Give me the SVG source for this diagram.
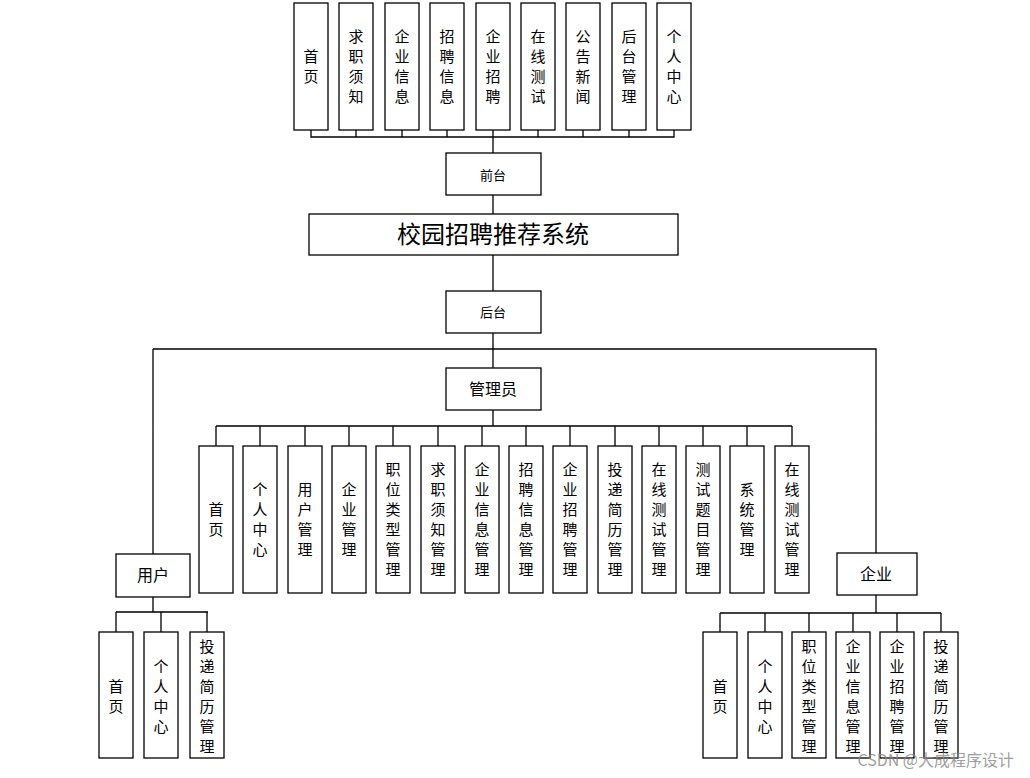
<svg xmlns="http://www.w3.org/2000/svg" width="1030" height="778" viewBox="0 0 1030 778">
<style>
rect{fill:#fff;stroke:#000;stroke-width:1.3}
text{font-family:"Noto Sans CJK SC","Liberation Sans",sans-serif;font-size:15px;text-anchor:middle;fill:#000}
.c{stroke:#000;stroke-width:1.3;fill:none}
</style>
<rect x="0" y="0" width="1030" height="778" style="stroke:none"/>
<g id="connectors">
<path class="c" d="M311 130V137H674V130M356 130V137M402 130V137M447 130V137M493 130V153M538 130V137M583 130V137M629 130V137M493 195V214M493 255V291M493 333V368M153 349H876V553M153 349V554M493 410V426M216 426H792M216 426V446M260 426V446M305 426V446M349 426V446M393 426V446M438 426V446M482 426V446M526 426V446M570 426V446M615 426V446M659 426V446M703 426V446M747 426V446M792 426V446M153 597V612M116 612H208M116 612V632M161 612V632M207 612V632M876 595V613M720 613H941M720 613V632M765 613V632M809 613V632M853 613V632M897 613V632M941 613V632"/>
</g>
<g id="title"><rect x="309" y="214" width="369" height="41"/><text x="493" y="243" style="font-size:24px">校园招聘推荐系统</text></g>
<g id="qiantai"><rect x="446" y="153" width="95" height="42"/><text x="493" y="180" style="font-size:13px">前台</text></g>
<g id="houtai"><rect x="446" y="291" width="95" height="42"/><text x="493" y="317" style="font-size:13px">后台</text></g>
<g id="admin"><rect x="446" y="368" width="95" height="42"/><text x="493" y="395" style="font-size:16px">管理员</text></g>
<g id="user"><rect x="116" y="554" width="74" height="43"/><text x="153" y="581" style="font-size:16px">用户</text></g>
<g id="company"><rect x="837" y="553" width="80" height="42"/><text x="876" y="580" style="font-size:16px">企业</text></g>
<g id="top-nodes">
<g id="t1"><rect x="294" y="3" width="34" height="127"/><text x="311" y="62">首</text><text x="311" y="82">页</text></g>
<g id="t2"><rect x="339" y="3" width="34" height="127"/><text x="356" y="42">求</text><text x="356" y="62">职</text><text x="356" y="82">须</text><text x="356" y="102">知</text></g>
<g id="t3"><rect x="385" y="3" width="34" height="127"/><text x="402" y="42">企</text><text x="402" y="62">业</text><text x="402" y="82">信</text><text x="402" y="102">息</text></g>
<g id="t4"><rect x="430" y="3" width="34" height="127"/><text x="447" y="42">招</text><text x="447" y="62">聘</text><text x="447" y="82">信</text><text x="447" y="102">息</text></g>
<g id="t5"><rect x="476" y="3" width="34" height="127"/><text x="493" y="42">企</text><text x="493" y="62">业</text><text x="493" y="82">招</text><text x="493" y="102">聘</text></g>
<g id="t6"><rect x="521" y="3" width="34" height="127"/><text x="538" y="42">在</text><text x="538" y="62">线</text><text x="538" y="82">测</text><text x="538" y="102">试</text></g>
<g id="t7"><rect x="566" y="3" width="34" height="127"/><text x="583" y="42">公</text><text x="583" y="62">告</text><text x="583" y="82">新</text><text x="583" y="102">闻</text></g>
<g id="t8"><rect x="612" y="3" width="34" height="127"/><text x="629" y="42">后</text><text x="629" y="62">台</text><text x="629" y="82">管</text><text x="629" y="102">理</text></g>
<g id="t9"><rect x="657" y="3" width="34" height="127"/><text x="674" y="42">个</text><text x="674" y="62">人</text><text x="674" y="82">中</text><text x="674" y="102">心</text></g>
</g>
<g id="admin-nodes">
<g id="a1"><rect x="199" y="446" width="34" height="147"/><text x="216" y="515">首</text><text x="216" y="535">页</text></g>
<g id="a2"><rect x="243" y="446" width="34" height="147"/><text x="260" y="495">个</text><text x="260" y="515">人</text><text x="260" y="535">中</text><text x="260" y="555">心</text></g>
<g id="a3"><rect x="288" y="446" width="34" height="147"/><text x="305" y="495">用</text><text x="305" y="515">户</text><text x="305" y="535">管</text><text x="305" y="555">理</text></g>
<g id="a4"><rect x="332" y="446" width="34" height="147"/><text x="349" y="495">企</text><text x="349" y="515">业</text><text x="349" y="535">管</text><text x="349" y="555">理</text></g>
<g id="a5"><rect x="376" y="446" width="34" height="147"/><text x="393" y="475">职</text><text x="393" y="495">位</text><text x="393" y="515">类</text><text x="393" y="535">型</text><text x="393" y="555">管</text><text x="393" y="575">理</text></g>
<g id="a6"><rect x="421" y="446" width="34" height="147"/><text x="438" y="475">求</text><text x="438" y="495">职</text><text x="438" y="515">须</text><text x="438" y="535">知</text><text x="438" y="555">管</text><text x="438" y="575">理</text></g>
<g id="a7"><rect x="465" y="446" width="34" height="147"/><text x="482" y="475">企</text><text x="482" y="495">业</text><text x="482" y="515">信</text><text x="482" y="535">息</text><text x="482" y="555">管</text><text x="482" y="575">理</text></g>
<g id="a8"><rect x="509" y="446" width="34" height="147"/><text x="526" y="475">招</text><text x="526" y="495">聘</text><text x="526" y="515">信</text><text x="526" y="535">息</text><text x="526" y="555">管</text><text x="526" y="575">理</text></g>
<g id="a9"><rect x="553" y="446" width="34" height="147"/><text x="570" y="475">企</text><text x="570" y="495">业</text><text x="570" y="515">招</text><text x="570" y="535">聘</text><text x="570" y="555">管</text><text x="570" y="575">理</text></g>
<g id="a10"><rect x="598" y="446" width="34" height="147"/><text x="615" y="475">投</text><text x="615" y="495">递</text><text x="615" y="515">简</text><text x="615" y="535">历</text><text x="615" y="555">管</text><text x="615" y="575">理</text></g>
<g id="a11"><rect x="642" y="446" width="34" height="147"/><text x="659" y="475">在</text><text x="659" y="495">线</text><text x="659" y="515">测</text><text x="659" y="535">试</text><text x="659" y="555">管</text><text x="659" y="575">理</text></g>
<g id="a12"><rect x="686" y="446" width="34" height="147"/><text x="703" y="475">测</text><text x="703" y="495">试</text><text x="703" y="515">题</text><text x="703" y="535">目</text><text x="703" y="555">管</text><text x="703" y="575">理</text></g>
<g id="a13"><rect x="730" y="446" width="34" height="147"/><text x="747" y="495">系</text><text x="747" y="515">统</text><text x="747" y="535">管</text><text x="747" y="555">理</text></g>
<g id="a14"><rect x="775" y="446" width="34" height="147"/><text x="792" y="475">在</text><text x="792" y="495">线</text><text x="792" y="515">测</text><text x="792" y="535">试</text><text x="792" y="555">管</text><text x="792" y="575">理</text></g>
</g>
<g id="user-nodes">
<g id="u1"><rect x="99" y="632" width="34" height="126"/><text x="116" y="692">首</text><text x="116" y="712">页</text></g>
<g id="u2"><rect x="144" y="632" width="34" height="126"/><text x="161" y="672">个</text><text x="161" y="692">人</text><text x="161" y="712">中</text><text x="161" y="732">心</text></g>
<g id="u3"><rect x="190" y="632" width="34" height="126"/><text x="207" y="652">投</text><text x="207" y="672">递</text><text x="207" y="692">简</text><text x="207" y="712">历</text><text x="207" y="732">管</text><text x="207" y="752">理</text></g>
</g>
<g id="company-nodes">
<g id="c1"><rect x="703" y="632" width="34" height="126"/><text x="720" y="692">首</text><text x="720" y="712">页</text></g>
<g id="c2"><rect x="748" y="632" width="34" height="126"/><text x="765" y="672">个</text><text x="765" y="692">人</text><text x="765" y="712">中</text><text x="765" y="732">心</text></g>
<g id="c3"><rect x="792" y="632" width="34" height="126"/><text x="809" y="652">职</text><text x="809" y="672">位</text><text x="809" y="692">类</text><text x="809" y="712">型</text><text x="809" y="732">管</text><text x="809" y="752">理</text></g>
<g id="c4"><rect x="836" y="632" width="34" height="126"/><text x="853" y="652">企</text><text x="853" y="672">业</text><text x="853" y="692">信</text><text x="853" y="712">息</text><text x="853" y="732">管</text><text x="853" y="752">理</text></g>
<g id="c5"><rect x="880" y="632" width="34" height="126"/><text x="897" y="652">企</text><text x="897" y="672">业</text><text x="897" y="692">招</text><text x="897" y="712">聘</text><text x="897" y="732">管</text><text x="897" y="752">理</text></g>
<g id="c6"><rect x="924" y="632" width="34" height="126"/><text x="941" y="652">投</text><text x="941" y="672">递</text><text x="941" y="692">简</text><text x="941" y="712">历</text><text x="941" y="732">管</text><text x="941" y="752">理</text></g>
</g>
<text x="1014" y="766" style="font-size:16px;text-anchor:end;fill:#888;opacity:0.8">CSDN @大成程序设计</text>
</svg>
